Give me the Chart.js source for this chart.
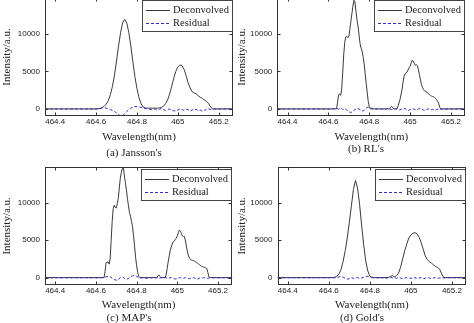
<!DOCTYPE html>
<html><head><meta charset="utf-8">
<script src="https://cdn.jsdelivr.net/npm/chart.js"></script>
<style>
html,body{margin:0;padding:0;background:#fff;width:474px;height:323px;overflow:hidden;position:relative}
canvas{position:absolute}
.cap{position:absolute;font:11px "Liberation Serif","Times New Roman",serif;color:#222;white-space:nowrap;transform:translate(-50%,-50%);line-height:1}
</style></head><body>
<canvas id="ca" width="237" height="162" style="left:0;top:-2px"></canvas>
<canvas id="cb" width="237" height="162" style="left:237px;top:-2px"></canvas>
<canvas id="cc" width="237" height="161" style="left:0;top:162px"></canvas>
<canvas id="cd" width="237" height="161" style="left:237px;top:162px"></canvas>
<div class="cap" style="left:134px;top:151.7px">(a) Jansson's</div>
<div class="cap" style="left:366px;top:147.5px">(b) RL's</div>
<div class="cap" style="left:129px;top:317px">(c) MAP's</div>
<div class="cap" style="left:362px;top:316.7px">(d) Gold's</div>
<script>
const seriesNames = ['Deconvolved', 'Residual'];
const xTicks = [464.4, 464.6, 464.8, 465, 465.2];
const xTickLabels = ['464.4', '464.6', '464.8', '465', '465.2'];
const yTicks = [0, 5000, 10000];
const yTickLabels = ['0', '5000', '10000'];

// Panel (a) Jansson's - deconvolved
const aDecX = [464.35,464.60,464.61,464.62,464.63,464.64,464.65,464.66,464.67,464.68,464.69,464.70,464.71,464.72,464.73,464.74,464.75,464.76,464.77,464.78,464.79,464.80,464.81,464.82,464.83,464.84,464.85,464.90,464.91,464.92,464.93,464.94,464.95,464.96,464.97,464.98,464.99,465.00,465.01,465.02,465.03,465.04,465.05,465.06,465.07,465.08,465.09,465.10,465.11,465.12,465.13,465.14,465.15,465.16,465.17,465.27];
const aDecY = [0,0,20,60,180,350,650,1100,1900,3000,4500,6400,8400,10200,11500,11950,11500,10200,8400,6300,4300,2700,1500,700,250,120,100,100,120,200,350,700,1200,2000,3000,4100,5000,5600,5850,5800,5300,4500,3500,2800,2300,2100,2000,1750,1550,1400,1200,1000,750,250,0,0];

// Panel (b) RL's - deconvolved
const bDecX = [464.35,464.64,464.645,464.65,464.655,464.66,464.665,464.67,464.675,464.68,464.685,464.69,464.695,464.70,464.705,464.71,464.715,464.72,464.725,464.73,464.735,464.74,464.745,464.75,464.755,464.76,464.765,464.77,464.775,464.78,464.785,464.79,464.795,464.80,464.805,464.90,464.905,464.91,464.915,464.92,464.935,464.94,464.95,464.96,464.965,464.97,464.975,464.98,464.985,464.99,464.995,465.00,465.005,465.01,465.015,465.02,465.025,465.03,465.035,465.04,465.045,465.05,465.055,465.06,465.065,465.07,465.075,465.08,465.085,465.09,465.095,465.10,465.105,465.11,465.115,465.12,465.125,465.13,465.135,465.14,465.145,465.15,465.27];
const bDecY = [0,0,900,1900,2000,1800,2600,4800,7200,8900,9600,9700,9500,9600,10600,11700,12700,13700,14500,14300,13000,11900,11000,9900,8700,8100,7700,7000,6000,4700,3400,2200,1000,300,0,0,200,350,150,0,0,300,1200,2500,3500,4300,4700,4800,4900,5200,5500,5700,6100,6500,6400,6100,5800,5900,5800,5300,4600,4000,3300,2900,2600,2400,2350,2300,2100,2000,1900,1800,1700,1650,1600,1500,1400,1200,1000,700,200,0,0];

// Panel (c) MAP's - deconvolved
const cDecX = [464.35,464.64,464.645,464.65,464.66,464.665,464.67,464.675,464.68,464.685,464.69,464.695,464.70,464.705,464.71,464.715,464.72,464.725,464.73,464.735,464.74,464.745,464.75,464.755,464.76,464.765,464.77,464.775,464.78,464.785,464.79,464.795,464.80,464.805,464.81,464.815,464.90,464.905,464.91,464.915,464.92,464.94,464.945,464.95,464.955,464.96,464.965,464.97,464.975,464.98,464.985,464.99,464.995,465.00,465.005,465.01,465.015,465.02,465.025,465.03,465.035,465.04,465.045,465.05,465.055,465.06,465.065,465.07,465.075,465.08,465.085,465.09,465.095,465.10,465.105,465.11,465.115,465.12,465.125,465.13,465.135,465.14,465.145,465.15,465.155,465.16,465.27];
const cDecY = [0,0,800,2000,2100,1800,2500,5000,7500,9200,9700,9400,9300,9900,10600,12000,13300,14100,14600,14700,13600,12700,11700,10600,9600,8700,8200,7500,6800,5600,4200,2700,1600,700,200,0,0,250,350,150,0,0,400,1200,2100,2900,3600,4100,4500,4800,4900,5100,5300,5600,6000,6350,6200,5900,5600,5500,5500,4900,4100,3400,2900,2600,2400,2350,2300,2250,2200,2100,2000,1900,1800,1700,1600,1500,1450,1400,1350,1300,1200,700,100,0,0];

// Panel (d) Gold's - deconvolved
const dDecX = [464.35,464.62,464.63,464.64,464.65,464.66,464.67,464.68,464.69,464.70,464.71,464.72,464.73,464.74,464.75,464.76,464.77,464.78,464.79,464.80,464.81,464.82,464.89,464.90,464.91,464.92,464.93,464.94,464.95,464.96,464.97,464.98,464.99,465.00,465.01,465.02,465.03,465.04,465.05,465.06,465.07,465.08,465.09,465.10,465.11,465.12,465.13,465.14,465.15,465.16,465.27];
const dDecY = [0,0,50,200,500,1100,2200,3600,5300,7400,9600,11800,13000,12000,9800,7000,4400,2200,900,200,50,0,0,150,250,100,250,600,1400,2500,3600,4500,5300,5700,5950,6000,5850,5400,4700,3800,2900,2400,2150,1950,1700,1500,1350,1150,500,0,0];

// Residual wavelength grid (464.35 ... 465.27)
const resWl = [464.35,464.36,464.37,464.38,464.39,464.40,464.41,464.42,464.43,464.44,464.45,464.46,464.47,464.48,464.49,464.50,464.51,464.52,464.53,464.54,464.55,464.56,464.57,464.58,464.59,464.60,464.61,464.62,464.63,464.64,464.65,464.66,464.67,464.68,464.69,464.70,464.71,464.72,464.73,464.74,464.75,464.76,464.77,464.78,464.79,464.80,464.81,464.82,464.83,464.84,464.85,464.86,464.87,464.88,464.89,464.90,464.91,464.92,464.93,464.94,464.95,464.96,464.97,464.98,464.99,465.00,465.01,465.02,465.03,465.04,465.05,465.06,465.07,465.08,465.09,465.10,465.11,465.12,465.13,465.14,465.15,465.16,465.17,465.18,465.19,465.20,465.21,465.22,465.23,465.24,465.25,465.26,465.27];
const resA = [-30,-20,-30,-20,-30,-20,-30,-20,-30,-20,-30,-20,-30,-20,-30,-20,-30,-20,-30,-20,-30,-20,-30,-20,-30,-20,
  0,50,120,150,100,0,-100,-200,-350,-550,-750,-950,-900,-650,-350,-100,100,250,300,300,250,200,100,50,0,-50,-100,0,-50,-150,-50,50,-100,-200,-100,0,-150,-250,-300,
  -150,0,-100,-200,-50,-100,-300,-150,0,-100,-250,-150,-350,-200,-50,0,-100,-50,
  -30,-20,-30,-20,-30,-20,-30,-20,-30,-20];
const resB = [-20,-30,-20,-30,-20,-30,-20,-30,-20,-30,-20,-30,-20,-30,-20,-30,-20,-30,-20,-30,-20,-30,-20,-30,-20,-30,-20,-30,
  50,100,-50,150,-100,50,-150,-350,-500,-300,-100,50,0,-200,-300,0,200,250,100,0,-50,0,-50,0,-100,-50,50,0,-100,-50,50,-50,-150,0,100,-50,-200,
  -100,50,-50,-150,0,50,-100,-200,-50,0,-150,-50,-200,-100,0,-100,0,
  -20,-30,-20,-30,-20,-30,-20,-30,-20,-30,-20];
const resC = [-20,-30,-20,-30,-20,-30,-20,-30,-20,-30,-20,-30,-20,-30,-20,-30,-20,-30,-20,-30,-20,-30,-20,-30,-20,-30,-20,-30,-20,
  50,100,150,100,-100,-250,-350,-300,0,100,-100,-250,-100,100,250,300,150,0,-50,0,-50,-100,0,-50,50,-50,0,-100,0,-50,50,-100,-50,0,-100,-200,
  -150,0,-50,-100,0,-50,-150,-50,0,-100,-200,-50,-100,0,-50,-100,0,
  -20,-30,-20,-30,-20,-30,-20,-30,-20,-30,-20];
const resD = [-20,-30,-20,-30,-20,-30,-20,-30,-20,-30,-20,-30,-20,-30,-20,-30,-20,-30,-20,-30,-20,-30,-20,-30,-20,-30,-20,-30,-20,
  0,100,150,50,-100,-200,-150,0,-100,-50,0,-100,-50,50,150,150,50,0,-50,0,-50,0,-50,0,-100,0,50,-50,0,-100,0,-50,-150,-50,0,-100,
  -50,-150,0,-100,-50,0,-150,-100,0,-50,-150,-50,0,-100,-50,0,-50,
  -20,-30,-20,-30,-20,-30,-20,-30,-20,-30,-20];

const pts = (xs, ys) => xs.map((x, i) => ({x, y: ys[i]}));

const framePlugin = {
  id: 'frame',
  afterDatasetsDraw(chart) {
    const {ctx, chartArea: a, scales: {x, y}} = chart;
    ctx.save();
    ctx.strokeStyle = '#333'; ctx.lineWidth = 1; ctx.setLineDash([]);
    const L = Math.round(a.left) + 0.5, R = Math.round(a.right) - 0.5, T = Math.round(a.top) + 0.5, B = Math.round(a.bottom) - 0.5;
    ctx.strokeRect(L, T, R - L, B - T);
    ctx.beginPath();
    xTicks.forEach(v => { const p = Math.round(x.getPixelForValue(v)) + 0.5; ctx.moveTo(p, B); ctx.lineTo(p, B - 3); ctx.moveTo(p, T); ctx.lineTo(p, T + 3); });
    yTicks.forEach(v => { const p = Math.round(y.getPixelForValue(v)) + 0.5; ctx.moveTo(L, p); ctx.lineTo(L + 3, p); ctx.moveTo(R, p); ctx.lineTo(R - 3, p); });
    ctx.stroke();
    ctx.restore();
  }
};

const legendPlugin = {
  id: 'boxLegend',
  afterDraw(chart) {
    const {ctx, chartArea: a} = chart;
    const w = 90, h = 31;
    const x0 = Math.round(a.right - 1 - w), y0 = Math.round(a.top + 1.5);
    ctx.save();
    ctx.fillStyle = '#fff';
    ctx.fillRect(x0, y0, w, h);
    ctx.strokeStyle = '#444'; ctx.lineWidth = 1;
    ctx.strokeRect(x0 + 0.5, y0 + 0.5, w, h);
    seriesNames.forEach((name, i) => {
      const ds = chart.data.datasets.find(d => d.label === name);
      const yy = Math.round(y0 + 9.5 + i * 13.5) + 0.5;
      ctx.strokeStyle = ds.borderColor; ctx.lineWidth = 1;
      ctx.setLineDash(ds.borderDash || []);
      ctx.beginPath(); ctx.moveTo(x0 + 4, yy); ctx.lineTo(x0 + 28, yy); ctx.stroke();
      ctx.setLineDash([]);
      ctx.fillStyle = '#222';
      ctx.font = '10.5px "Liberation Serif", "Times New Roman", serif';
      ctx.textBaseline = 'middle'; ctx.textAlign = 'left';
      ctx.fillText(name, x0 + 31, yy);
    });
    ctx.restore();
  }
};

const panels = [
  {id: 'ca', decX: aDecX, decY: aDecY, res: resA, yW: 45, padR: 4, padT: 0, xH: 44, yTitlePad: 1.5, xTitlePad: 17},
  {id: 'cb', decX: bDecX, decY: bDecY, res: resB, yW: 40.3, padR: 8.7, padT: 0, xH: 44, yTitlePad: 0, xTitlePad: 17},
  {id: 'cc', decX: cDecX, decY: cDecY, res: resC, yW: 45, padR: 4.7, padT: 5, xH: 38.3, yTitlePad: 1.8, xTitlePad: 12.5},
  {id: 'cd', decX: dDecX, decY: dDecY, res: resD, yW: 40.5, padR: 7.7, padT: 5, xH: 38.3, yTitlePad: 0, xTitlePad: 12.5}
];

const tickFont = {family: '"Liberation Sans", Arial, sans-serif', size: 8};
const titleFont = {family: '"Liberation Serif", "Times New Roman", serif', size: 11, lineHeight: 1};

panels.forEach(p => {
  new Chart(document.getElementById(p.id), {
    type: 'line',
    data: {
      datasets: [
        {label: seriesNames[0], data: pts(p.decX, p.decY), borderColor: '#3a3a3a', borderWidth: 1, pointRadius: 0, tension: 0, order: 2, fill: false},
        {label: seriesNames[1], data: pts(resWl, p.res), borderColor: '#2f2fc8', borderWidth: 1, borderDash: [3, 2], pointRadius: 0, tension: 0, order: 1, fill: false}
      ]
    },
    options: {
      responsive: false, animation: false, devicePixelRatio: 1,
      layout: {padding: {left: 0, right: p.padR, top: p.padT, bottom: 0}},
      plugins: {legend: {display: false}, tooltip: {enabled: false}},
      scales: {
        x: {
          type: 'linear', min: 464.35, max: 465.27,
          grid: {display: false, drawTicks: false}, border: {display: false},
          afterBuildTicks: s => { s.ticks = xTicks.map(v => ({value: v})); },
          afterFit: s => { s.height = p.xH; s.paddingLeft = 0; s.paddingRight = 0; s.paddingTop = 0; s.paddingBottom = 0; },
          ticks: {font: tickFont, color: '#222', padding: 1, maxRotation: 0, autoSkip: false,
                  callback: (v, i) => xTickLabels[i]},
          title: {display: true, text: 'Wavelength(nm)', font: titleFont, color: '#222', padding: {top: 0, bottom: p.xTitlePad}}
        },
        y: {
          type: 'linear', min: -950, max: 14800,
          grid: {display: false, drawTicks: false}, border: {display: false},
          afterBuildTicks: s => { s.ticks = yTicks.map(v => ({value: v})); },
          afterFit: s => { s.width = p.yW; s.paddingTop = 0; s.paddingBottom = 0; s.paddingLeft = 0; s.paddingRight = 0; },
          ticks: {font: tickFont, color: '#222', padding: 5, autoSkip: false,
                  callback: (v, i) => yTickLabels[i]},
          title: {display: true, text: 'Intensity/a.u.', font: titleFont, color: '#222', padding: {top: p.yTitlePad, bottom: 0}}
        }
      }
    },
    plugins: [framePlugin, legendPlugin]
  });
});
</script>
</body></html>
